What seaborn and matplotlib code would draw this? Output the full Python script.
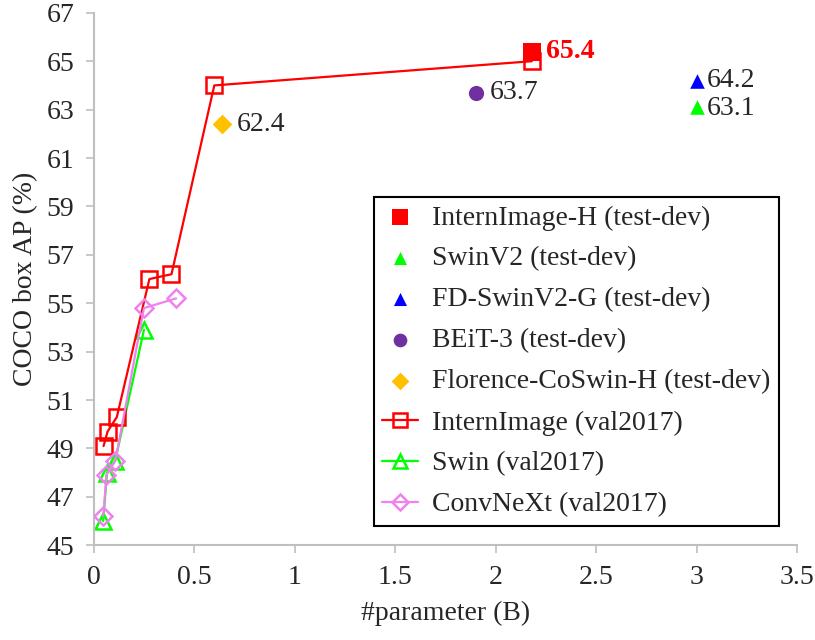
import matplotlib
matplotlib.use("Agg")
import matplotlib.pyplot as plt
import seaborn as sns

# val2017 curves
intern_params = [0.049, 0.069, 0.115, 0.277, 0.387, 0.6, 2.18]
intern_ap = [49.1, 49.7, 50.3, 56.0, 56.2, 64.0, 65.0]
swin_params = [0.047, 0.066, 0.107, 0.25]
swin_ap = [46.0, 48.0, 48.5, 53.9]
convnext_params = [0.048, 0.063, 0.108, 0.25, 0.41]
convnext_ap = [46.2, 47.9, 48.5, 54.8, 55.2]

# test-dev single points
single_names = ["InternImage-H (test-dev)", "SwinV2 (test-dev)", "FD-SwinV2-G (test-dev)",
                "BEiT-3 (test-dev)", "Florence-CoSwin-H (test-dev)"]
single_params = [2.18, 3.0, 3.0, 1.9, 0.64]
single_ap = [65.4, 63.1, 64.2, 63.7, 62.4]
single_colors = ["#FF0000", "#00FF00", "#0000FF", "#7030A0", "#FFC000"]
single_markers = ["s", "^", "^", "o", "D"]
single_sizes = [150, 110, 110, 120, 100]

sns.set_theme(style="white")
plt.rcParams["font.family"] = ["Liberation Serif", "DejaVu Serif"]
FS = 20

fig, ax = plt.subplots(figsize=(8.15, 6.4), dpi=100)
fig.subplots_adjust(left=0.115, right=0.978, top=0.98, bottom=0.148)

sns.lineplot(x=intern_params, y=intern_ap, ax=ax, sort=False, color="#FF0000", lw=1.6,
             marker="s", markersize=11, markerfacecolor="none", markeredgecolor="#FF0000",
             markeredgewidth=1.8, label="InternImage (val2017)", zorder=3)
sns.lineplot(x=swin_params, y=swin_ap, ax=ax, sort=False, color="#00FF00", lw=1.6,
             marker="^", markersize=11, markerfacecolor="none", markeredgecolor="#00FF00",
             markeredgewidth=1.8, label="Swin (val2017)", zorder=2)
sns.lineplot(x=convnext_params, y=convnext_ap, ax=ax, sort=False, color="#EE82EE", lw=1.6,
             marker="D", markersize=9, markerfacecolor="none", markeredgecolor="#EE82EE",
             markeredgewidth=1.8, label="ConvNeXt (val2017)", zorder=4)

for name, px, ap, c, m, s in zip(single_names, single_params, single_ap,
                                 single_colors, single_markers, single_sizes):
    sns.scatterplot(x=[px], y=[ap], ax=ax, color=c, marker=m, s=s, linewidth=0,
                    label=name, zorder=5)

# value labels
ax.text(2.25, 65.4, "65.4", color="#FF0000", fontweight="bold", va="center", ha="left", fontsize=FS)
ax.text(1.97, 63.7, "63.7", va="center", ha="left", fontsize=FS)
ax.text(0.71, 62.4, "62.4", va="center", ha="left", fontsize=FS)
ax.text(3.05, 64.2, "64.2", va="center", ha="left", fontsize=FS)
ax.text(3.05, 63.05, "63.1", va="center", ha="left", fontsize=FS)

ax.set_xlim(0, 3.5)
ax.set_ylim(45, 67)
ax.set_xticks([0, 0.5, 1, 1.5, 2, 2.5, 3, 3.5])
ax.set_xticklabels(["0", "0.5", "1", "1.5", "2", "2.5", "3", "3.5"])
ax.set_yticks(range(45, 68, 2))
ax.set_xlabel("#parameter (B)", fontsize=FS, labelpad=8)
ax.set_ylabel("COCO box AP (%)", fontsize=FS, labelpad=6)

for side in ["top", "right"]:
    ax.spines[side].set_visible(False)
for side in ["left", "bottom"]:
    ax.spines[side].set_color("#BFBFBF")
    ax.spines[side].set_linewidth(1.5)
ax.tick_params(axis="both", direction="out", length=6, width=1.2, color="#BFBFBF",
               labelsize=FS, pad=8, left=True, bottom=True)

handles, labels = ax.get_legend_handles_labels()
order = single_names + ["InternImage (val2017)", "Swin (val2017)", "ConvNeXt (val2017)"]
hmap = dict(zip(labels, handles))
leg = ax.legend([hmap[k] for k in order], order, loc="lower right",
                bbox_to_anchor=(0.982, 0.026), frameon=True, fancybox=False,
                edgecolor="black", framealpha=1, fontsize=FS, labelspacing=0.56,
                handlelength=1.3, handletextpad=0.5, borderpad=0.3, borderaxespad=0.2,
                markerscale=0.9)
leg.get_frame().set_linewidth(1.5)

fig.savefig("out.png", dpi=100)
